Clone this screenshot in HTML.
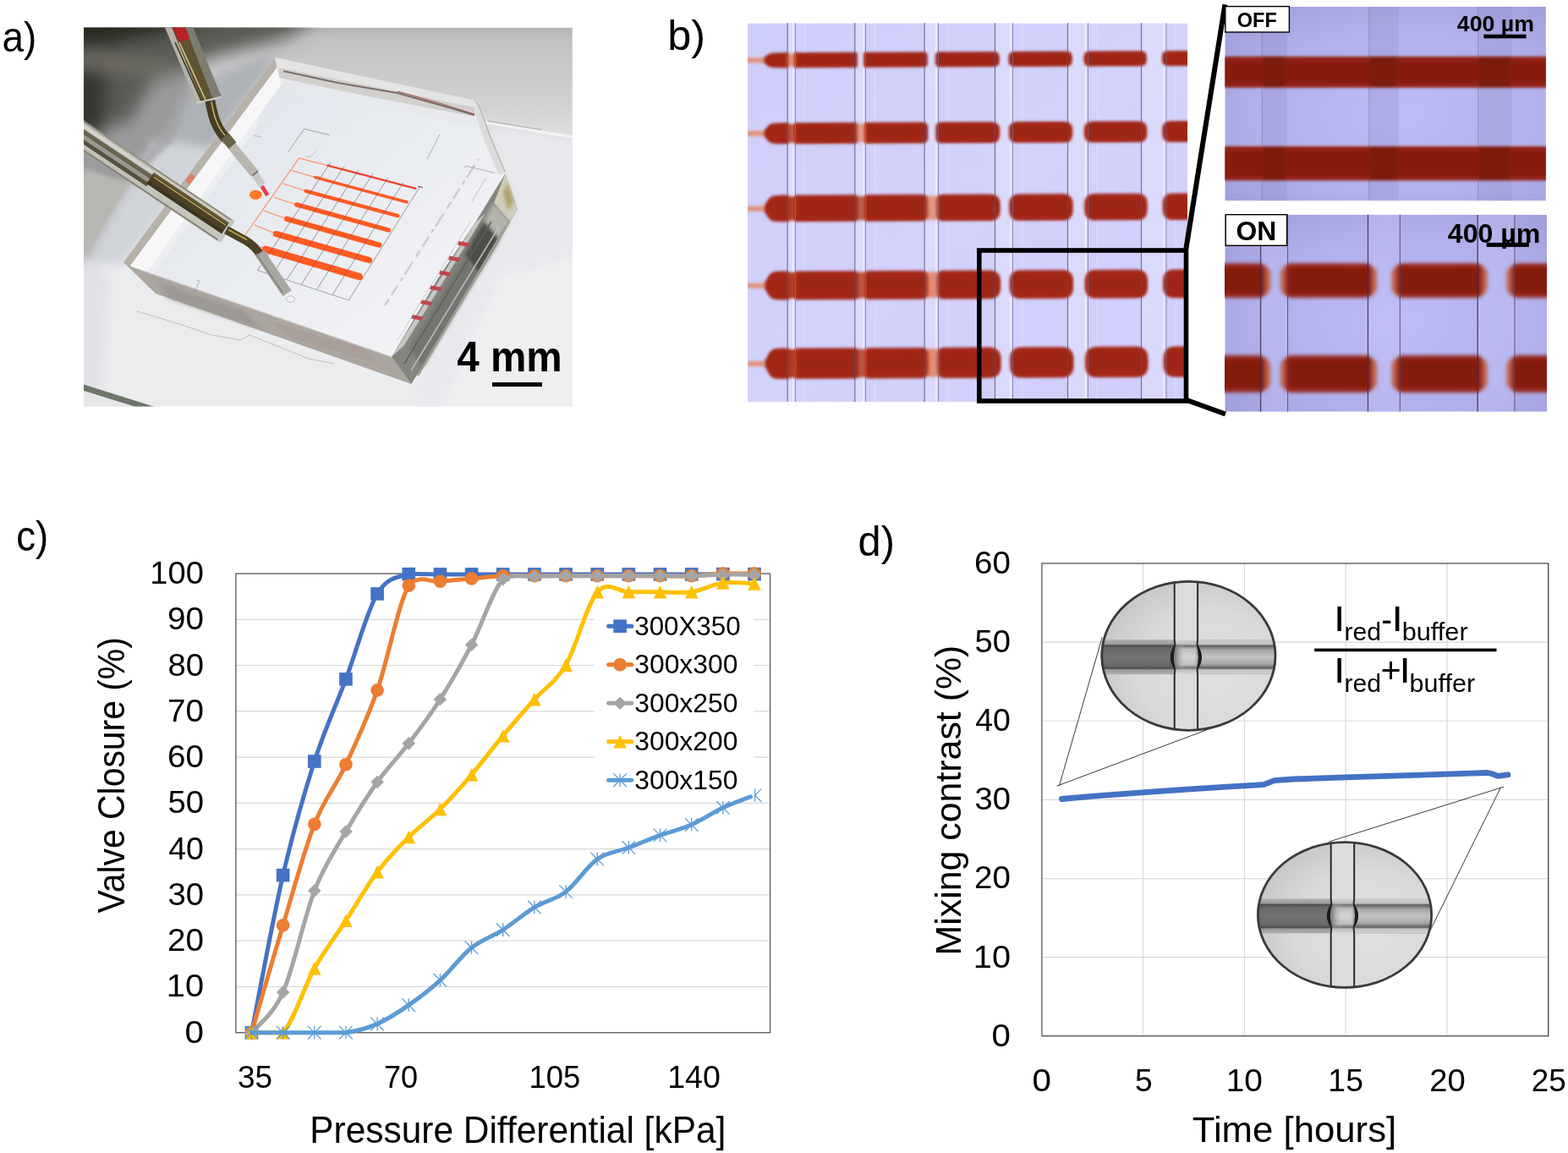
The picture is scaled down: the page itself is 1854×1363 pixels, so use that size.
<!DOCTYPE html>
<html lang="en"><head><meta charset="utf-8"><title>Figure</title>
<style>
html,body{margin:0;padding:0;background:#fff;overflow:hidden}
svg{display:block}
text{font-family:"Liberation Sans",sans-serif}
</style></head>
<body>
<svg width="1854" height="1363" viewBox="0 0 1854 1363">
<defs>
<clipPath id="clipA"><rect x="99.0" y="32.6" width="577.9" height="447.9"/></clipPath>
<filter id="a_b1" filterUnits="userSpaceOnUse" x="20" y="-40" width="740" height="600"><feGaussianBlur stdDeviation="0.7"/></filter>
<filter id="a_b2" filterUnits="userSpaceOnUse" x="20" y="-40" width="740" height="600"><feGaussianBlur stdDeviation="2"/></filter>
<filter id="a_b6" filterUnits="userSpaceOnUse" x="20" y="-40" width="740" height="600"><feGaussianBlur stdDeviation="6"/></filter>
<filter id="a_b20" filterUnits="userSpaceOnUse" x="20" y="-40" width="740" height="600"><feGaussianBlur stdDeviation="10"/></filter>
<linearGradient id="a_bg" x1="0" y1="0" x2="0" y2="1"><stop offset="0" stop-color="#b4b4b5"/><stop offset="0.03" stop-color="#c0c1c2"/><stop offset="0.10" stop-color="#c7c8ca"/><stop offset="0.2" stop-color="#cfd1d3"/><stop offset="0.26" stop-color="#d8dadc"/><stop offset="0.32" stop-color="#dfe1e3"/><stop offset="0.6" stop-color="#e8eaec"/><stop offset="1" stop-color="#f0f0f2"/></linearGradient>
<linearGradient id="a_top" x1="0" y1="0" x2="1" y2="1"><stop offset="0" stop-color="#dee1e9"/><stop offset="0.35" stop-color="#e5e8ee"/><stop offset="0.7" stop-color="#eef0f3"/><stop offset="1" stop-color="#f4f5f6"/></linearGradient>
<clipPath id="clipB"><rect x="884.0" y="27.5" width="520.0" height="447.5"/></clipPath>
<filter id="blB" x="-5%" y="-20%" width="110%" height="140%"><feGaussianBlur stdDeviation="1.6"/></filter>
<filter id="blB2" x="-5%" y="-5%" width="110%" height="110%"><feGaussianBlur stdDeviation="2.5"/></filter>
<linearGradient id="bgB" x1="0" y1="0" x2="1" y2="1"><stop offset="0" stop-color="#cecefa"/><stop offset="0.5" stop-color="#d3d2fc"/><stop offset="1" stop-color="#d0cdfa"/></linearGradient>
<clipPath id="clipOff"><rect x="1448.3" y="8.0" width="379.6" height="229.4"/></clipPath>
<radialGradient id="bgOff" cx="0.55" cy="0.55" r="0.75"><stop offset="0" stop-color="#bebcf6"/><stop offset="0.6" stop-color="#b2b0ea"/><stop offset="1" stop-color="#9e9cd6"/></radialGradient>
<filter id="blO" x="-5%" y="-30%" width="110%" height="160%"><feGaussianBlur stdDeviation="1.6"/></filter>
<clipPath id="clipOn"><rect x="1448.3" y="253.7" width="380.7" height="233.0"/></clipPath>
<filter id="blN" x="-10%" y="-30%" width="120%" height="160%"><feGaussianBlur stdDeviation="2.1"/></filter>
<filter id="d_b1" x="-5%" y="-5%" width="110%" height="110%"><feGaussianBlur stdDeviation="0.6"/></filter>
<clipPath id="el1"><ellipse cx="1405.4" cy="775.3" rx="103.6" ry="89.0"/></clipPath>
<radialGradient id="elg1" cx="0.62" cy="0.6" r="0.8"><stop offset="0" stop-color="#e0e0e0"/><stop offset="0.5" stop-color="#dadada"/><stop offset="0.8" stop-color="#c8c8c8"/><stop offset="1" stop-color="#b0b0b0"/></radialGradient>
<linearGradient id="hl1" x1="0" y1="0" x2="0" y2="1"><stop offset="0" stop-color="#b2b2b2"/><stop offset="0.13" stop-color="#9c9c9c"/><stop offset="0.17" stop-color="#4e4e4e"/><stop offset="0.25" stop-color="#686868"/><stop offset="0.5" stop-color="#727272"/><stop offset="0.75" stop-color="#686868"/><stop offset="0.83" stop-color="#4e4e4e"/><stop offset="0.87" stop-color="#9a9a9a"/><stop offset="1" stop-color="#b0b0b0"/></linearGradient>
<linearGradient id="hr1" x1="0" y1="0" x2="0" y2="1"><stop offset="0" stop-color="#bcbcbc"/><stop offset="0.03" stop-color="#cdcdcd"/><stop offset="0.13" stop-color="#c2c2c2"/><stop offset="0.18" stop-color="#5e5e5e"/><stop offset="0.3" stop-color="#a6a6a6"/><stop offset="0.5" stop-color="#c2c2c2"/><stop offset="0.7" stop-color="#a8a8a8"/><stop offset="0.82" stop-color="#5e5e5e"/><stop offset="0.87" stop-color="#c4c4c4"/><stop offset="0.97" stop-color="#cdcdcd"/><stop offset="1" stop-color="#b8b8b8"/></linearGradient>
<linearGradient id="hc1" x1="0" y1="0" x2="0" y2="1"><stop offset="0" stop-color="#d4d4d4"/><stop offset="0.13" stop-color="#bcbcbc"/><stop offset="0.18" stop-color="#707070"/><stop offset="0.28" stop-color="#c0c0c0"/><stop offset="0.5" stop-color="#d4d4d4"/><stop offset="0.72" stop-color="#c0c0c0"/><stop offset="0.82" stop-color="#707070"/><stop offset="0.87" stop-color="#c0c0c0"/><stop offset="1" stop-color="#d6d6d6"/></linearGradient>
<linearGradient id="hx1" x1="0" y1="0" x2="1" y2="0"><stop offset="0" stop-color="#6a6a6a" stop-opacity="0.9"/><stop offset="0.3" stop-color="#a0a0a0" stop-opacity="0.3"/><stop offset="0.5" stop-color="#d0d0d0" stop-opacity="0"/><stop offset="0.85" stop-color="#a0a0a0" stop-opacity="0"/><stop offset="1" stop-color="#707070" stop-opacity="0.5"/></linearGradient>
<clipPath id="el2"><ellipse cx="1590.0" cy="1081.5" rx="103.6" ry="86.9"/></clipPath>
<radialGradient id="elg2" cx="0.62" cy="0.6" r="0.8"><stop offset="0" stop-color="#e0e0e0"/><stop offset="0.5" stop-color="#dadada"/><stop offset="0.8" stop-color="#c8c8c8"/><stop offset="1" stop-color="#b0b0b0"/></radialGradient>
<linearGradient id="hl2" x1="0" y1="0" x2="0" y2="1"><stop offset="0" stop-color="#b2b2b2"/><stop offset="0.13" stop-color="#9c9c9c"/><stop offset="0.17" stop-color="#4e4e4e"/><stop offset="0.25" stop-color="#686868"/><stop offset="0.5" stop-color="#727272"/><stop offset="0.75" stop-color="#686868"/><stop offset="0.83" stop-color="#4e4e4e"/><stop offset="0.87" stop-color="#9a9a9a"/><stop offset="1" stop-color="#b0b0b0"/></linearGradient>
<linearGradient id="hr2" x1="0" y1="0" x2="0" y2="1"><stop offset="0" stop-color="#bcbcbc"/><stop offset="0.03" stop-color="#cdcdcd"/><stop offset="0.13" stop-color="#c2c2c2"/><stop offset="0.18" stop-color="#5e5e5e"/><stop offset="0.3" stop-color="#a6a6a6"/><stop offset="0.5" stop-color="#c2c2c2"/><stop offset="0.7" stop-color="#a8a8a8"/><stop offset="0.82" stop-color="#5e5e5e"/><stop offset="0.87" stop-color="#c4c4c4"/><stop offset="0.97" stop-color="#cdcdcd"/><stop offset="1" stop-color="#b8b8b8"/></linearGradient>
<linearGradient id="hc2" x1="0" y1="0" x2="0" y2="1"><stop offset="0" stop-color="#d4d4d4"/><stop offset="0.13" stop-color="#bcbcbc"/><stop offset="0.18" stop-color="#707070"/><stop offset="0.28" stop-color="#c0c0c0"/><stop offset="0.5" stop-color="#d4d4d4"/><stop offset="0.72" stop-color="#c0c0c0"/><stop offset="0.82" stop-color="#707070"/><stop offset="0.87" stop-color="#c0c0c0"/><stop offset="1" stop-color="#d6d6d6"/></linearGradient>
<linearGradient id="hx2" x1="0" y1="0" x2="1" y2="0"><stop offset="0" stop-color="#6a6a6a" stop-opacity="0.9"/><stop offset="0.3" stop-color="#a0a0a0" stop-opacity="0.3"/><stop offset="0.5" stop-color="#d0d0d0" stop-opacity="0"/><stop offset="0.85" stop-color="#a0a0a0" stop-opacity="0"/><stop offset="1" stop-color="#707070" stop-opacity="0.5"/></linearGradient>
</defs>
<rect width="1854" height="1363" fill="#fff"/>
<g clip-path="url(#clipA)">
<rect x="99.0" y="32.6" width="577.9" height="447.9" fill="url(#a_bg)"/>
<g filter="url(#a_b6)">
<polygon points="60.0,0.0 226.0,0.0 226.0,100.0 196.0,170.0 150.0,222.0 99.0,312.0 60.0,330.0" fill="#9a9b9c" />
<polygon points="60.0,190.0 150.0,220.0 99.0,306.0 60.0,320.0" fill="#b8b8b5" />
<polygon points="226.0,100.0 330.0,62.0 250.0,175.0 196.0,170.0" fill="#aeb1b5" />
<polygon points="185.0,165.0 250.0,175.0 146.0,312.0 99.0,330.0 99.0,312.0 150.0,222.0" fill="#d0d3d8" />
<polygon points="99.0,312.0 146.0,312.0 186.0,349.0 486.0,456.0 520.0,490.0 60.0,490.0" fill="#ebecee" />
<polygon points="60.0,320.0 99.0,306.0 130.0,325.0 120.0,460.0 60.0,470.0" fill="#e0e2e5" />
<polygon points="572.0,146.0 690.0,165.0 690.0,490.0 500.0,490.0 486.0,454.0 612.0,247.0 597.0,205.0" fill="#e7e9ec" />
<polygon points="590.0,330.0 690.0,300.0 690.0,490.0 520.0,490.0" fill="#eeeff1" />
</g>
<g filter="url(#a_b20)">
<polygon points="40.0,-20.0 430.0,-20.0 340.0,44.0 245.0,68.0 212.0,88.0 180.0,96.0 152.0,145.0 40.0,160.0" fill="#5a5a54" />
<polygon points="40.0,-20.0 330.0,-20.0 215.0,36.0 125.0,56.0 40.0,60.0" fill="#2a2a20" />
<polygon points="40.0,70.0 128.0,84.0 122.0,160.0 40.0,160.0" fill="#36362e" />
<polygon points="40.0,58.0 216.0,78.0 216.0,90.0 40.0,72.0" fill="#77756a" />
</g>
<polygon points="99.0,200.0 152.0,217.0 99.0,306.0" fill="#b6b6b3" filter="url(#a_b2)"/>
<polygon points="152.0,217.0 226.0,100.0 204.0,168.0" fill="#a2a3a4" filter="url(#a_b2)" opacity="0.7"/>
<polygon points="99.0,454.5 183.0,481.0 160.0,481.0 99.0,462.0" fill="#70756a" filter="url(#a_b1)"/>
<polygon points="99.0,462.0 160.0,481.0 99.0,481.0" fill="#e4e6e8" />
<line x1="572.0" y1="144.5" x2="677.0" y2="162.0" stroke="#f2f4f4" stroke-width="3" filter="url(#a_b1)"/>
<line x1="577.0" y1="143.2" x2="640.0" y2="153.4" stroke="#9a9a9a" stroke-width="0.8" />
<g filter="url(#a_b1)">
<polygon points="146.0,310.0 325.0,68.0 561.5,119.0 597.3,205.5 463.0,422.0 157.0,316.0" fill="url(#a_top)" />
<polygon points="146.0,310.0 325.0,68.0 332.2,73.4 153.2,315.4" fill="#b6b2aa" />
<polygon points="153.2,315.4 332.2,73.4 345.0,82.0 174.0,322.0" fill="#f7f7f7" />
<polygon points="174.0,322.0 304.0,140.0 308.0,144.0 182.0,324.0" fill="#eceef2" />
<polygon points="219.0,214.0 226.0,205.0 231.0,209.0 224.0,218.0" fill="#e08060" />
<polygon points="325.0,68.0 561.5,119.0 562.0,138.0 430.0,113.0 330.0,92.0" fill="#e4e4e4" />
<polygon points="330.0,80.0 430.0,100.0 561.0,127.0 562.0,138.0 430.0,113.0 330.0,92.0" fill="#d2d0ce" />
<path d="M335.0,84.0 L400.0,98.0 L470.0,110.0 L520.0,124.0 L561.0,136.0" fill="none" stroke="#7a6e6a" stroke-width="2.2" />
<path d="M470.0,108.0 L520.0,122.0 L561.0,135.0" fill="none" stroke="#a05a50" stroke-width="1.2" />
<polygon points="330.0,92.0 430.0,113.0 562.0,138.0 566.0,150.0 430.0,124.0 335.0,104.0" fill="#e6e8ec" opacity="0.8"/>
<polygon points="561.5,119.0 567.0,122.0 580.0,160.0 598.0,203.0 590.0,207.0 574.0,170.0 563.0,138.0" fill="#dcdcdc" />
<path d="M561.5,119.0 L566.0,124.0 L579.0,160.0 L597.0,203.0" fill="none" stroke="#a8a8a0" stroke-width="1" />
<polygon points="146.0,310.0 157.0,316.0 463.0,422.0 486.3,454.0 184.0,347.0" fill="#aca6a1" />
<polygon points="185.0,332.0 290.0,368.0 310.0,390.0 200.0,354.0" fill="#93918d" opacity="0.6" filter="url(#a_b2)"/>
<polygon points="320.0,380.0 430.0,412.0 450.0,432.0 340.0,398.0" fill="#a89a98" opacity="0.6"/>
<line x1="157.0" y1="316.0" x2="463.0" y2="422.0" stroke="#c8c4c0" stroke-width="1.2" />
<polygon points="597.3,205.5 612.0,247.0 577.0,307.0 486.3,454.0 463.0,422.0 518.0,329.0 562.0,263.0" fill="#858580" />
<polygon points="597.3,205.5 612.0,247.0 603.0,262.0 584.0,240.0" fill="#d0cdbc" />
<polygon points="600.0,215.0 607.0,238.0 601.0,250.0 595.0,228.0" fill="#b0a068" filter="url(#a_b2)"/>
<polygon points="584.0,240.0 603.0,262.0 590.0,284.0 572.0,262.0" fill="#b4b4aa" filter="url(#a_b2)"/>
<polygon points="572.0,262.0 590.0,284.0 566.0,324.0 549.0,302.0" fill="#4e4e4a" filter="url(#a_b2)"/>
<polygon points="562.0,263.0 574.0,252.0 478.0,408.0 463.0,422.0" fill="#c6c6c4" />
<polygon points="549.0,302.0 566.0,324.0 500.0,434.0 484.0,412.0" fill="#747470" filter="url(#a_b2)"/>
<line x1="590.0" y1="268.0" x2="486.0" y2="438.0" stroke="#aebcc0" stroke-width="1.6" />
<line x1="598.0" y1="268.0" x2="494.0" y2="444.0" stroke="#9c9c94" stroke-width="2.6" />
<line x1="581.0" y1="262.0" x2="478.0" y2="430.0" stroke="#606058" stroke-width="1.5" />
<polygon points="542.5,285.0 555.5,287.5 554.0,292.0 541.0,289.5" fill="#c0464e" />
<polygon points="531.5,302.4 544.5,304.9 543.0,309.4 530.0,306.9" fill="#c0464e" />
<polygon points="520.5,319.8 533.5,322.3 532.0,326.8 519.0,324.3" fill="#c0464e" />
<polygon points="509.5,337.2 522.5,339.7 521.0,344.2 508.0,341.7" fill="#c0464e" />
<polygon points="498.5,354.6 511.5,357.1 510.0,361.6 497.0,359.1" fill="#c0464e" />
<polygon points="487.5,372.0 500.5,374.5 499.0,379.0 486.0,376.5" fill="#c0464e" />
</g>
<line x1="556.0" y1="262.0" x2="470.0" y2="402.0" stroke="#b0b0b4" stroke-width="0.8" opacity="0.7"/>
<g filter="url(#a_b1)">
<line x1="353.6" y1="186.9" x2="289.8" y2="277.8" stroke="#ff8a62" stroke-width="1.1" />
<line x1="353.6" y1="186.9" x2="387.4" y2="195.7" stroke="#ff8a62" stroke-width="1.1" />
<line x1="387.4" y1="195.7" x2="491.5" y2="222.8" stroke="#f0442a" stroke-width="2.4" stroke-linecap="round"/>
<line x1="344.8" y1="201.5" x2="372.7" y2="209.6" stroke="#ff8a62" stroke-width="1.1" />
<line x1="372.7" y1="209.6" x2="481.3" y2="239.0" stroke="#ff5a22" stroke-width="3.5" stroke-linecap="round"/>
<line x1="334.5" y1="216.9" x2="361.7" y2="225.8" stroke="#ff8a62" stroke-width="1.1" />
<line x1="361.7" y1="225.8" x2="470.3" y2="255.1" stroke="#ff5a22" stroke-width="4.4" stroke-linecap="round"/>
<line x1="323.5" y1="233.0" x2="350.7" y2="241.9" stroke="#ff8a62" stroke-width="1.1" />
<line x1="350.7" y1="241.9" x2="459.3" y2="272.0" stroke="#ff5a22" stroke-width="5.4" stroke-linecap="round"/>
<line x1="312.5" y1="249.2" x2="339.0" y2="258.8" stroke="#ff8a62" stroke-width="1.1" />
<line x1="339.0" y1="258.8" x2="448.3" y2="289.6" stroke="#ff5a22" stroke-width="6.3" stroke-linecap="round"/>
<line x1="300.8" y1="266.1" x2="326.5" y2="276.4" stroke="#ff8a62" stroke-width="1.1" />
<line x1="326.5" y1="276.4" x2="436.5" y2="307.6" stroke="#ff5a22" stroke-width="7.3" stroke-linecap="round"/>
<line x1="308.0" y1="291.8" x2="314.0" y2="294.7" stroke="#ff8a62" stroke-width="1.1" />
<line x1="314.0" y1="294.7" x2="424.8" y2="327.0" stroke="#ff5a22" stroke-width="8.3" stroke-linecap="round"/>
<line x1="391.0" y1="192.0" x2="304.5" y2="319.6" stroke="#5a5050" stroke-width="0.9" opacity="0.62"/>
<line x1="407.2" y1="196.4" x2="321.4" y2="325.2" stroke="#5a5050" stroke-width="0.9" opacity="0.62"/>
<line x1="424.0" y1="200.8" x2="339.0" y2="330.7" stroke="#5a5050" stroke-width="0.9" opacity="0.62"/>
<line x1="441.0" y1="205.2" x2="356.6" y2="335.8" stroke="#5a5050" stroke-width="0.9" opacity="0.62"/>
<line x1="458.5" y1="210.3" x2="374.9" y2="341.7" stroke="#5a5050" stroke-width="0.9" opacity="0.62"/>
<line x1="476.9" y1="215.5" x2="393.2" y2="348.3" stroke="#5a5050" stroke-width="0.9" opacity="0.62"/>
<line x1="496.7" y1="220.6" x2="412.3" y2="354.9" stroke="#5a5050" stroke-width="0.9" opacity="0.62"/>
<line x1="304.5" y1="319.6" x2="412.3" y2="354.9" stroke="#5a5a5a" stroke-width="0.9" opacity="0.55"/>
<line x1="494.0" y1="220.3" x2="500.0" y2="221.5" stroke="#555" stroke-width="1" />
<ellipse cx="302.3" cy="230.3" rx="7.4" ry="5.6" fill="#ff7a22"/>
</g>
<g opacity="0.4" filter="url(#a_b1)">
<line x1="455.0" y1="361.0" x2="566.0" y2="188.0" stroke="#9a9a9e" stroke-width="2.4" stroke-dasharray="9 5 14 6 5 4 18 7"/>
</g>
<g opacity="0.6">
<path d="M162.0,368.0 L215.0,384.0 L250.0,396.0 L285.0,402.0 L295.0,396.0 L330.0,410.0 L365.0,424.0 L395.0,430.0" fill="none" stroke="#8a8a8a" stroke-width="0.8" />
<path d="M232.0,331.0 L236.0,332.0 L230.0,345.0" fill="none" stroke="#777" stroke-width="0.8" />
<path d="M340.6,179.8 L359.5,152.4 L389.8,159.6" fill="none" stroke="#666" stroke-width="0.9" />
<path d="M362.0,184.6 L366.0,186.0 L374.0,178.5" fill="none" stroke="#888" stroke-width="0.8" />
<path d="M548.5,197.6 L552.0,196.5 L584.8,204.5" fill="none" stroke="#777" stroke-width="0.9" />
<path d="M575.0,210.0 L558.0,238.0" fill="none" stroke="#888" stroke-width="0.8" />
<path d="M300.0,160.0 L309.0,162.0" fill="none" stroke="#888" stroke-width="0.8" />
<path d="M520.0,159.0 L505.0,188.0" fill="none" stroke="#777" stroke-width="0.9" />
</g>
<g filter="url(#a_b1)">
<polygon points="194.9,32.0 227.9,32.0 261.7,114.5 232.3,121.8" fill="#8a8a80" />
<polygon points="194.9,32.0 203.0,32.0 239.0,120.0 232.3,121.8" fill="#b4b4aa" />
<polygon points="203.0,32.0 219.0,32.0 252.0,117.0 239.0,120.5" fill="#5e5230" />
<line x1="212.0" y1="50.0" x2="243.0" y2="118.0" stroke="#d8c880" stroke-width="1.6" />
<line x1="207.0" y1="50.0" x2="238.0" y2="119.0" stroke="#3a3420" stroke-width="1.6" />
<polygon points="219.0,32.0 227.9,32.0 261.7,114.5 252.0,117.0" fill="#7c7c70" />
<polygon points="203.0,32.0 219.1,32.0 224.2,45.5 212.5,50.0" fill="#b52424" />
<line x1="232.3" y1="121.8" x2="261.7" y2="114.5" stroke="#d0d0c8" stroke-width="2" />
<path d="M248.4,119 C252,140 256,152 269,166 " fill="none" stroke="#463e26" stroke-width="12"/>
<path d="M250,120 C253,138 257,150 266,160" fill="none" stroke="#c8b060" stroke-width="1.6"/>
<line x1="267.0" y1="164.0" x2="301.3" y2="205.5" stroke="#b8b6b0" stroke-width="11" />
<line x1="266.0" y1="161.0" x2="275.0" y2="172.0" stroke="#6a644c" stroke-width="11.5" />
<line x1="301.3" y1="205.5" x2="310.0" y2="218.7" stroke="#c8c8c8" stroke-width="9" />
<line x1="298.5" y1="207.5" x2="305.0" y2="202.5" stroke="#5a4a4a" stroke-width="1.4" />
<line x1="309.6" y1="220.0" x2="316.4" y2="231.0" stroke="#e0404a" stroke-width="4.6" />
<polygon points="74.2,125.9 276.3,260.7 259.5,286.0 57.3,151.1" fill="#b8b8b1" />
<polygon points="74.2,125.9 276.3,260.7 275.3,262.2 73.2,127.4" fill="#8e8a78" />
<polygon points="58.3,149.6 260.5,284.5 259.5,286.0 57.3,151.1" fill="#858170" />
<polygon points="72.1,128.9 184.4,203.9 182.2,207.2 69.9,132.3" fill="#d2d2cc" />
<polygon points="69.3,133.1 181.6,208.0 178.6,212.6 66.3,137.7" fill="#6a6450" />
<polygon points="66.3,137.7 178.6,212.6 176.1,216.3 63.8,141.4" fill="#9a988c" />
<polygon points="63.8,141.4 176.1,216.3 173.3,220.5 61.0,145.6" fill="#57513c" />
<polygon points="61.0,145.6 173.3,220.5 171.4,223.4 59.1,148.5" fill="#c2c2ba" />
<polygon points="185.0,202.9 274.9,262.9 273.4,265.0 183.6,205.1" fill="#cfcfc8" />
<polygon points="175.0,218.0 264.8,277.9 260.9,283.8 171.0,223.9" fill="#c4c4bc" />
<polygon points="181.9,204.0 270.9,263.4 262.3,276.3 173.3,216.9" fill="#4c4228" />
<polygon points="181.9,204.0 270.9,263.4 269.6,265.5 180.5,206.1" fill="#6a5c34" />
<polygon points="182.3,208.8 267.2,265.4 266.4,266.6 181.5,210.0" fill="#b8a660" />
<polygon points="175.5,213.6 264.6,272.9 262.3,276.3 173.3,216.9" fill="#3c3420" />
<polygon points="273.8,259.1 277.6,261.6 260.7,286.8 257.0,284.3" fill="#c6c6be" />
<path d="M267.5,271.9 L290,284 C300,290 305,296 309,303" fill="none" stroke="#4e4226" stroke-width="10"/>
<line x1="270.0" y1="271.5" x2="292.0" y2="283.5" stroke="#c0a850" stroke-width="1.5" />
<line x1="307.0" y1="299.0" x2="339.5" y2="346.8" stroke="#a8a6a0" stroke-width="12.5" />
<line x1="303.0" y1="300.0" x2="334.0" y2="346.0" stroke="#8a8884" stroke-width="2" />
<ellipse cx="343.5" cy="353.5" rx="5" ry="3.6" fill="#f4f4f4" stroke="#b0b0b0" stroke-width="0.8"/>
</g>
</g>
<rect x="582" y="452" width="59" height="5" fill="#000"/>
<g clip-path="url(#clipB)">
<rect x="884.0" y="27.5" width="520.0" height="447.5" fill="url(#bgB)"/>
<rect x="931.6" y="22.5" width="7.4" height="457.5" fill="#dedefc" opacity="0.7"/>
<rect x="936.8" y="27.5" width="2.2" height="447.5" fill="#eeeeff" opacity="0.8"/>
<rect x="950.0" y="27.5" width="3" height="447.5" fill="#dcdcfc" opacity="0.45"/>
<rect x="1011.3" y="22.5" width="10.7" height="457.5" fill="#dedefc" opacity="0.7"/>
<rect x="1019.8" y="27.5" width="2.2" height="447.5" fill="#eeeeff" opacity="0.8"/>
<rect x="1033.0" y="27.5" width="3" height="447.5" fill="#dcdcfc" opacity="0.45"/>
<rect x="1093.6" y="22.5" width="14.4" height="457.5" fill="#dedefc" opacity="0.7"/>
<rect x="1105.8" y="27.5" width="2.2" height="447.5" fill="#eeeeff" opacity="0.8"/>
<rect x="1119.0" y="27.5" width="3" height="447.5" fill="#dcdcfc" opacity="0.45"/>
<rect x="1177.0" y="22.5" width="19.0" height="457.5" fill="#dedefc" opacity="0.7"/>
<rect x="1193.8" y="27.5" width="2.2" height="447.5" fill="#eeeeff" opacity="0.8"/>
<rect x="1207.0" y="27.5" width="3" height="447.5" fill="#dcdcfc" opacity="0.45"/>
<rect x="1263.0" y="22.5" width="22.0" height="457.5" fill="#dedefc" opacity="0.7"/>
<rect x="1282.8" y="27.5" width="2.2" height="447.5" fill="#eeeeff" opacity="0.8"/>
<rect x="1296.0" y="27.5" width="3" height="447.5" fill="#dcdcfc" opacity="0.45"/>
<rect x="1350.0" y="22.5" width="27.5" height="457.5" fill="#dedefc" opacity="0.7"/>
<rect x="1375.3" y="27.5" width="2.2" height="447.5" fill="#eeeeff" opacity="0.8"/>
<rect x="1388.5" y="27.5" width="3" height="447.5" fill="#dcdcfc" opacity="0.45"/>
<g transform="rotate(-0.27 960 100)">
<g filter="url(#blB)">
<path d="M882.0,68.6 L899.0,68.6 C907.0,68.6 905.0,62.5 917.0,62.3 L926.0,62.0 L926.0,80.0 L917.0,79.7 C905.0,79.5 907.0,73.4 899.0,73.4 L882.0,73.4Z" fill="#a32614"/>
<rect x="882.0" y="67.6" width="21" height="6.8" fill="#e8a590" opacity="0.85"/>
<path d="M922.0,62.0 L931.1,62.0 Q932.5,62.0 932.5,63.4 L932.5,78.6 Q932.5,80.0 931.1,80.0 L922.0,80.0 Q922.0,80.0 922.0,80.0 L922.0,62.0 Q922.0,62.0 922.0,62.0Z" fill="#a32614"/>
<rect x="926.0" y="66.0" width="2.5" height="10.1" rx="3.6" fill="#9a2410" opacity="0.55"/>
<path d="M939.9,62.0 L1011.5,62.0 Q1014.0,62.0 1014.0,64.5 L1014.0,77.5 Q1014.0,80.0 1011.5,80.0 L939.9,80.0 Q938.5,80.0 938.5,78.6 L938.5,63.4 Q938.5,62.0 939.9,62.0Z" fill="#a32614"/>
<rect x="942.5" y="66.0" width="67.5" height="10.1" rx="3.6" fill="#9a2410" opacity="0.55"/>
<path d="M1023.5,62.0 L1092.3,62.0 Q1097.0,62.0 1097.0,66.7 L1097.0,75.3 Q1097.0,80.0 1092.3,80.0 L1023.5,80.0 Q1021.0,80.0 1021.0,77.5 L1021.0,64.5 Q1021.0,62.0 1023.5,62.0Z" fill="#a32614"/>
<rect x="1025.0" y="66.0" width="68.0" height="10.1" rx="3.6" fill="#9a2410" opacity="0.55"/>
<path d="M1110.7,62.0 L1174.8,62.0 Q1182.0,62.0 1182.0,69.2 L1182.0,72.8 Q1182.0,80.0 1174.8,80.0 L1110.7,80.0 Q1106.0,80.0 1106.0,75.3 L1106.0,66.7 Q1106.0,62.0 1110.7,62.0Z" fill="#a32614"/>
<rect x="1110.0" y="66.0" width="68.0" height="10.1" rx="3.6" fill="#9a2410" opacity="0.55"/>
<path d="M1199.7,62.0 L1260.8,62.0 Q1268.0,62.0 1268.0,69.2 L1268.0,72.8 Q1268.0,80.0 1260.8,80.0 L1199.7,80.0 Q1192.5,80.0 1192.5,72.8 L1192.5,69.2 Q1192.5,62.0 1199.7,62.0Z" fill="#a32614"/>
<rect x="1196.5" y="66.0" width="67.5" height="10.1" rx="3.6" fill="#9a2410" opacity="0.55"/>
<path d="M1288.7,62.0 L1348.8,62.0 Q1356.0,62.0 1356.0,69.2 L1356.0,72.8 Q1356.0,80.0 1348.8,80.0 L1288.7,80.0 Q1281.5,80.0 1281.5,72.8 L1281.5,69.2 Q1281.5,62.0 1288.7,62.0Z" fill="#a32614"/>
<rect x="1285.5" y="66.0" width="66.5" height="10.1" rx="3.6" fill="#9a2410" opacity="0.55"/>
<path d="M1381.2,62.0 L1414.0,62.0 Q1414.0,62.0 1414.0,62.0 L1414.0,80.0 Q1414.0,80.0 1414.0,80.0 L1381.2,80.0 Q1374.0,80.0 1374.0,72.8 L1374.0,69.2 Q1374.0,62.0 1381.2,62.0Z" fill="#a32614"/>
<rect x="1378.0" y="66.0" width="32.0" height="10.1" rx="3.6" fill="#9a2410" opacity="0.55"/>
<rect x="929.5" y="63.5" width="12.0" height="15.0" fill="#e0602c" opacity="0.6000000000000001"/>
<path d="M882.0,155.1 L899.0,155.1 C907.0,155.1 905.0,145.5 917.0,145.3 L926.0,145.0 L926.0,170.0 L917.0,169.7 C905.0,169.5 907.0,159.9 899.0,159.9 L882.0,159.9Z" fill="#a32614"/>
<rect x="882.0" y="154.1" width="21" height="6.8" fill="#e8a590" opacity="0.85"/>
<path d="M922.0,145.0 L930.5,145.0 Q932.5,145.0 932.5,147.0 L932.5,168.0 Q932.5,170.0 930.5,170.0 L922.0,170.0 Q922.0,170.0 922.0,170.0 L922.0,145.0 Q922.0,145.0 922.0,145.0Z" fill="#a32614"/>
<rect x="926.0" y="150.5" width="2.5" height="14.0" rx="5.0" fill="#9a2410" opacity="0.55"/>
<path d="M940.5,145.0 L1010.5,145.0 Q1014.0,145.0 1014.0,148.5 L1014.0,166.5 Q1014.0,170.0 1010.5,170.0 L940.5,170.0 Q938.5,170.0 938.5,168.0 L938.5,147.0 Q938.5,145.0 940.5,145.0Z" fill="#a32614"/>
<rect x="942.5" y="150.5" width="67.5" height="14.0" rx="5.0" fill="#9a2410" opacity="0.55"/>
<path d="M1024.5,145.0 L1090.5,145.0 Q1097.0,145.0 1097.0,151.5 L1097.0,163.5 Q1097.0,170.0 1090.5,170.0 L1024.5,170.0 Q1021.0,170.0 1021.0,166.5 L1021.0,148.5 Q1021.0,145.0 1024.5,145.0Z" fill="#a32614"/>
<rect x="1025.0" y="150.5" width="68.0" height="14.0" rx="5.0" fill="#9a2410" opacity="0.55"/>
<path d="M1112.5,145.0 L1172.0,145.0 Q1182.0,145.0 1182.0,155.0 L1182.0,160.0 Q1182.0,170.0 1172.0,170.0 L1112.5,170.0 Q1106.0,170.0 1106.0,163.5 L1106.0,151.5 Q1106.0,145.0 1112.5,145.0Z" fill="#a32614"/>
<rect x="1110.0" y="150.5" width="68.0" height="14.0" rx="5.0" fill="#9a2410" opacity="0.55"/>
<path d="M1202.5,145.0 L1258.0,145.0 Q1268.0,145.0 1268.0,155.0 L1268.0,160.0 Q1268.0,170.0 1258.0,170.0 L1202.5,170.0 Q1192.5,170.0 1192.5,160.0 L1192.5,155.0 Q1192.5,145.0 1202.5,145.0Z" fill="#a32614"/>
<rect x="1196.5" y="150.5" width="67.5" height="14.0" rx="5.0" fill="#9a2410" opacity="0.55"/>
<path d="M1291.5,145.0 L1346.0,145.0 Q1356.0,145.0 1356.0,155.0 L1356.0,160.0 Q1356.0,170.0 1346.0,170.0 L1291.5,170.0 Q1281.5,170.0 1281.5,160.0 L1281.5,155.0 Q1281.5,145.0 1291.5,145.0Z" fill="#a32614"/>
<rect x="1285.5" y="150.5" width="66.5" height="14.0" rx="5.0" fill="#9a2410" opacity="0.55"/>
<path d="M1384.0,145.0 L1414.0,145.0 Q1414.0,145.0 1414.0,145.0 L1414.0,170.0 Q1414.0,170.0 1414.0,170.0 L1384.0,170.0 Q1374.0,170.0 1374.0,160.0 L1374.0,155.0 Q1374.0,145.0 1384.0,145.0Z" fill="#a32614"/>
<rect x="1378.0" y="150.5" width="32.0" height="14.0" rx="5.0" fill="#9a2410" opacity="0.55"/>
<rect x="929.5" y="146.5" width="12.0" height="22.0" fill="#b03418" opacity="0.8"/>
<rect x="1011.0" y="146.5" width="13.0" height="22.0" fill="#e0602c" opacity="0.5"/>
<path d="M882.0,243.9 L899.0,243.9 C907.0,243.9 905.0,231.1 917.0,230.9 L926.0,230.6 L926.0,262.0 L917.0,261.7 C905.0,261.5 907.0,248.7 899.0,248.7 L882.0,248.7Z" fill="#a32614"/>
<rect x="882.0" y="242.9" width="21" height="6.8" fill="#e8a590" opacity="0.85"/>
<path d="M922.0,230.6 L930.0,230.6 Q932.5,230.6 932.5,233.1 L932.5,259.5 Q932.5,262.0 930.0,262.0 L922.0,262.0 Q922.0,262.0 922.0,262.0 L922.0,230.6 Q922.0,230.6 922.0,230.6Z" fill="#a32614"/>
<rect x="926.0" y="237.5" width="2.5" height="17.6" rx="6.3" fill="#9a2410" opacity="0.55"/>
<path d="M941.0,230.6 L1009.6,230.6 Q1014.0,230.6 1014.0,235.0 L1014.0,257.6 Q1014.0,262.0 1009.6,262.0 L941.0,262.0 Q938.5,262.0 938.5,259.5 L938.5,233.1 Q938.5,230.6 941.0,230.6Z" fill="#a32614"/>
<rect x="942.5" y="237.5" width="67.5" height="17.6" rx="6.3" fill="#9a2410" opacity="0.55"/>
<path d="M1025.4,230.6 L1088.8,230.6 Q1097.0,230.6 1097.0,238.8 L1097.0,253.8 Q1097.0,262.0 1088.8,262.0 L1025.4,262.0 Q1021.0,262.0 1021.0,257.6 L1021.0,235.0 Q1021.0,230.6 1025.4,230.6Z" fill="#a32614"/>
<rect x="1025.0" y="237.5" width="68.0" height="17.6" rx="6.3" fill="#9a2410" opacity="0.55"/>
<path d="M1114.2,230.6 L1169.4,230.6 Q1182.0,230.6 1182.0,243.2 L1182.0,249.4 Q1182.0,262.0 1169.4,262.0 L1114.2,262.0 Q1106.0,262.0 1106.0,253.8 L1106.0,238.8 Q1106.0,230.6 1114.2,230.6Z" fill="#a32614"/>
<rect x="1110.0" y="237.5" width="68.0" height="17.6" rx="6.3" fill="#9a2410" opacity="0.55"/>
<path d="M1205.1,230.6 L1255.4,230.6 Q1268.0,230.6 1268.0,243.2 L1268.0,249.4 Q1268.0,262.0 1255.4,262.0 L1205.1,262.0 Q1192.5,262.0 1192.5,249.4 L1192.5,243.2 Q1192.5,230.6 1205.1,230.6Z" fill="#a32614"/>
<rect x="1196.5" y="237.5" width="67.5" height="17.6" rx="6.3" fill="#9a2410" opacity="0.55"/>
<path d="M1294.1,230.6 L1343.4,230.6 Q1356.0,230.6 1356.0,243.2 L1356.0,249.4 Q1356.0,262.0 1343.4,262.0 L1294.1,262.0 Q1281.5,262.0 1281.5,249.4 L1281.5,243.2 Q1281.5,230.6 1294.1,230.6Z" fill="#a32614"/>
<rect x="1285.5" y="237.5" width="66.5" height="17.6" rx="6.3" fill="#9a2410" opacity="0.55"/>
<path d="M1386.6,230.6 L1414.0,230.6 Q1414.0,230.6 1414.0,230.6 L1414.0,262.0 Q1414.0,262.0 1414.0,262.0 L1386.6,262.0 Q1374.0,262.0 1374.0,249.4 L1374.0,243.2 Q1374.0,230.6 1386.6,230.6Z" fill="#a32614"/>
<rect x="1378.0" y="237.5" width="32.0" height="17.6" rx="6.3" fill="#9a2410" opacity="0.55"/>
<rect x="929.5" y="232.1" width="12.0" height="28.4" fill="#b03418" opacity="0.95"/>
<rect x="1011.0" y="232.1" width="13.0" height="28.4" fill="#b03418" opacity="0.75"/>
<rect x="1094.0" y="232.1" width="15.0" height="28.4" fill="#e0602c" opacity="0.55"/>
<path d="M882.0,334.9 L899.0,334.9 C907.0,334.9 905.0,320.9 917.0,320.7 L926.0,320.4 L926.0,354.2 L917.0,353.9 C905.0,353.7 907.0,339.7 899.0,339.7 L882.0,339.7Z" fill="#a32614"/>
<rect x="882.0" y="333.9" width="21" height="6.8" fill="#e8a590" opacity="0.85"/>
<path d="M922.0,320.4 L929.8,320.4 Q932.5,320.4 932.5,323.1 L932.5,351.5 Q932.5,354.2 929.8,354.2 L922.0,354.2 Q922.0,354.2 922.0,354.2 L922.0,320.4 Q922.0,320.4 922.0,320.4Z" fill="#a32614"/>
<rect x="926.0" y="327.8" width="2.5" height="18.9" rx="6.8" fill="#9a2410" opacity="0.55"/>
<path d="M941.2,320.4 L1009.3,320.4 Q1014.0,320.4 1014.0,325.1 L1014.0,349.5 Q1014.0,354.2 1009.3,354.2 L941.2,354.2 Q938.5,354.2 938.5,351.5 L938.5,323.1 Q938.5,320.4 941.2,320.4Z" fill="#a32614"/>
<rect x="942.5" y="327.8" width="67.5" height="18.9" rx="6.8" fill="#9a2410" opacity="0.55"/>
<path d="M1025.7,320.4 L1088.2,320.4 Q1097.0,320.4 1097.0,329.2 L1097.0,345.4 Q1097.0,354.2 1088.2,354.2 L1025.7,354.2 Q1021.0,354.2 1021.0,349.5 L1021.0,325.1 Q1021.0,320.4 1025.7,320.4Z" fill="#a32614"/>
<rect x="1025.0" y="327.8" width="68.0" height="18.9" rx="6.8" fill="#9a2410" opacity="0.55"/>
<path d="M1114.8,320.4 L1168.5,320.4 Q1182.0,320.4 1182.0,333.9 L1182.0,340.7 Q1182.0,354.2 1168.5,354.2 L1114.8,354.2 Q1106.0,354.2 1106.0,345.4 L1106.0,329.2 Q1106.0,320.4 1114.8,320.4Z" fill="#a32614"/>
<rect x="1110.0" y="327.8" width="68.0" height="18.9" rx="6.8" fill="#9a2410" opacity="0.55"/>
<path d="M1206.0,320.4 L1254.5,320.4 Q1268.0,320.4 1268.0,333.9 L1268.0,340.7 Q1268.0,354.2 1254.5,354.2 L1206.0,354.2 Q1192.5,354.2 1192.5,340.7 L1192.5,333.9 Q1192.5,320.4 1206.0,320.4Z" fill="#a32614"/>
<rect x="1196.5" y="327.8" width="67.5" height="18.9" rx="6.8" fill="#9a2410" opacity="0.55"/>
<path d="M1295.0,320.4 L1342.5,320.4 Q1356.0,320.4 1356.0,333.9 L1356.0,340.7 Q1356.0,354.2 1342.5,354.2 L1295.0,354.2 Q1281.5,354.2 1281.5,340.7 L1281.5,333.9 Q1281.5,320.4 1295.0,320.4Z" fill="#a32614"/>
<rect x="1285.5" y="327.8" width="66.5" height="18.9" rx="6.8" fill="#9a2410" opacity="0.55"/>
<path d="M1387.5,320.4 L1414.0,320.4 Q1414.0,320.4 1414.0,320.4 L1414.0,354.2 Q1414.0,354.2 1414.0,354.2 L1387.5,354.2 Q1374.0,354.2 1374.0,340.7 L1374.0,333.9 Q1374.0,320.4 1387.5,320.4Z" fill="#a32614"/>
<rect x="1378.0" y="327.8" width="32.0" height="18.9" rx="6.8" fill="#9a2410" opacity="0.55"/>
<rect x="929.5" y="321.9" width="12.0" height="30.8" fill="#b03418" opacity="0.95"/>
<rect x="1011.0" y="321.9" width="13.0" height="30.8" fill="#b03418" opacity="0.8"/>
<rect x="1094.0" y="321.9" width="15.0" height="30.8" fill="#e0602c" opacity="0.62"/>
<path d="M882.0,427.2 L899.0,427.2 C907.0,427.2 905.0,411.9 917.0,411.7 L926.0,411.4 L926.0,447.8 L917.0,447.5 C905.0,447.3 907.0,432.0 899.0,432.0 L882.0,432.0Z" fill="#a32614"/>
<rect x="882.0" y="426.2" width="21" height="6.8" fill="#e8a590" opacity="0.85"/>
<path d="M922.0,411.4 L929.6,411.4 Q932.5,411.4 932.5,414.3 L932.5,444.9 Q932.5,447.8 929.6,447.8 L922.0,447.8 Q922.0,447.8 922.0,447.8 L922.0,411.4 Q922.0,411.4 922.0,411.4Z" fill="#a32614"/>
<rect x="926.0" y="419.4" width="2.5" height="20.4" rx="7.3" fill="#9a2410" opacity="0.55"/>
<path d="M941.4,411.4 L1008.9,411.4 Q1014.0,411.4 1014.0,416.5 L1014.0,442.7 Q1014.0,447.8 1008.9,447.8 L941.4,447.8 Q938.5,447.8 938.5,444.9 L938.5,414.3 Q938.5,411.4 941.4,411.4Z" fill="#a32614"/>
<rect x="942.5" y="419.4" width="67.5" height="20.4" rx="7.3" fill="#9a2410" opacity="0.55"/>
<path d="M1026.1,411.4 L1087.5,411.4 Q1097.0,411.4 1097.0,420.9 L1097.0,438.3 Q1097.0,447.8 1087.5,447.8 L1026.1,447.8 Q1021.0,447.8 1021.0,442.7 L1021.0,416.5 Q1021.0,411.4 1026.1,411.4Z" fill="#a32614"/>
<rect x="1025.0" y="419.4" width="68.0" height="20.4" rx="7.3" fill="#9a2410" opacity="0.55"/>
<path d="M1115.5,411.4 L1167.4,411.4 Q1182.0,411.4 1182.0,426.0 L1182.0,433.2 Q1182.0,447.8 1167.4,447.8 L1115.5,447.8 Q1106.0,447.8 1106.0,438.3 L1106.0,420.9 Q1106.0,411.4 1115.5,411.4Z" fill="#a32614"/>
<rect x="1110.0" y="419.4" width="68.0" height="20.4" rx="7.3" fill="#9a2410" opacity="0.55"/>
<path d="M1207.1,411.4 L1253.4,411.4 Q1268.0,411.4 1268.0,426.0 L1268.0,433.2 Q1268.0,447.8 1253.4,447.8 L1207.1,447.8 Q1192.5,447.8 1192.5,433.2 L1192.5,426.0 Q1192.5,411.4 1207.1,411.4Z" fill="#a32614"/>
<rect x="1196.5" y="419.4" width="67.5" height="20.4" rx="7.3" fill="#9a2410" opacity="0.55"/>
<path d="M1296.1,411.4 L1341.4,411.4 Q1356.0,411.4 1356.0,426.0 L1356.0,433.2 Q1356.0,447.8 1341.4,447.8 L1296.1,447.8 Q1281.5,447.8 1281.5,433.2 L1281.5,426.0 Q1281.5,411.4 1296.1,411.4Z" fill="#a32614"/>
<rect x="1285.5" y="419.4" width="66.5" height="20.4" rx="7.3" fill="#9a2410" opacity="0.55"/>
<path d="M1388.6,411.4 L1414.0,411.4 Q1414.0,411.4 1414.0,411.4 L1414.0,447.8 Q1414.0,447.8 1414.0,447.8 L1388.6,447.8 Q1374.0,447.8 1374.0,433.2 L1374.0,426.0 Q1374.0,411.4 1388.6,411.4Z" fill="#a32614"/>
<rect x="1378.0" y="419.4" width="32.0" height="20.4" rx="7.3" fill="#9a2410" opacity="0.55"/>
<rect x="929.5" y="412.9" width="12.0" height="33.4" fill="#b03418" opacity="0.95"/>
<rect x="1011.0" y="412.9" width="13.0" height="33.4" fill="#b03418" opacity="0.8"/>
<rect x="1094.0" y="412.9" width="15.0" height="33.4" fill="#e0602c" opacity="0.62"/>
</g>
</g>
<line x1="931.1" x2="931.1" y1="22.5" y2="480.0" stroke="#5c4c74" stroke-width="1.1" opacity="0.8"/>
<line x1="940.5" x2="940.5" y1="22.5" y2="480.0" stroke="#7c6c98" stroke-width="0.9" opacity="0.8"/>
<line x1="1010.8" x2="1010.8" y1="22.5" y2="480.0" stroke="#5c4c74" stroke-width="1.1" opacity="0.8"/>
<line x1="1023.5" x2="1023.5" y1="22.5" y2="480.0" stroke="#7c6c98" stroke-width="0.9" opacity="0.8"/>
<line x1="1093.1" x2="1093.1" y1="22.5" y2="480.0" stroke="#5c4c74" stroke-width="1.1" opacity="0.8"/>
<line x1="1109.5" x2="1109.5" y1="22.5" y2="480.0" stroke="#7c6c98" stroke-width="0.9" opacity="0.8"/>
<line x1="1176.5" x2="1176.5" y1="22.5" y2="480.0" stroke="#5c4c74" stroke-width="1.1" opacity="0.8"/>
<line x1="1197.5" x2="1197.5" y1="22.5" y2="480.0" stroke="#7c6c98" stroke-width="0.9" opacity="0.8"/>
<line x1="1262.5" x2="1262.5" y1="22.5" y2="480.0" stroke="#5c4c74" stroke-width="1.1" opacity="0.8"/>
<line x1="1286.5" x2="1286.5" y1="22.5" y2="480.0" stroke="#7c6c98" stroke-width="0.9" opacity="0.8"/>
<line x1="1349.5" x2="1349.5" y1="22.5" y2="480.0" stroke="#5c4c74" stroke-width="1.1" opacity="0.8"/>
<line x1="1379.0" x2="1379.0" y1="22.5" y2="480.0" stroke="#7c6c98" stroke-width="0.9" opacity="0.8"/>
</g>
<g clip-path="url(#clipOff)">
<rect x="1448.3" y="8.0" width="379.6" height="229.4" fill="url(#bgOff)"/>
<rect x="1492.2" y="8.0" width="29.3" height="229.4" fill="#8c8cc4" opacity="0.28"/>
<line x1="1492.2" x2="1492.2" y1="8.0" y2="237.4" stroke="#7878a8" stroke-width="0.8" opacity="0.7"/>
<rect x="1618.7" y="8.0" width="35.0" height="229.4" fill="#8c8cc4" opacity="0.28"/>
<line x1="1618.7" x2="1618.7" y1="8.0" y2="237.4" stroke="#7878a8" stroke-width="0.8" opacity="0.7"/>
<rect x="1747.4" y="8.0" width="40.5" height="229.4" fill="#8c8cc4" opacity="0.28"/>
<line x1="1747.4" x2="1747.4" y1="8.0" y2="237.4" stroke="#7878a8" stroke-width="0.8" opacity="0.7"/>
<g filter="url(#blO)">
<rect x="1438.3" y="66.8" width="399.6" height="36.8" fill="#932414"/>
<rect x="1438.3" y="72.8" width="399.6" height="24.8" fill="#851a0e"/>
<rect x="1494.2" y="67.3" width="24.3" height="35.8" rx="3" fill="#7c1a10"/>
<rect x="1620.7" y="67.3" width="30.0" height="35.8" rx="3" fill="#7c1a10"/>
<rect x="1749.4" y="67.3" width="35.5" height="35.8" rx="3" fill="#7c1a10"/>
<rect x="1438.3" y="173.0" width="399.6" height="40.4" fill="#932414"/>
<rect x="1438.3" y="179.0" width="399.6" height="28.4" fill="#851a0e"/>
<rect x="1494.2" y="173.5" width="24.3" height="39.4" rx="3" fill="#7c1a10"/>
<rect x="1620.7" y="173.5" width="30.0" height="39.4" rx="3" fill="#7c1a10"/>
<rect x="1749.4" y="173.5" width="35.5" height="39.4" rx="3" fill="#7c1a10"/>
</g>
</g>
<g clip-path="url(#clipOn)">
<rect x="1448.3" y="253.7" width="380.7" height="233.0" fill="url(#bgOff)"/>
<rect x="1490.6" y="253.7" width="32.0" height="233.0" fill="#c4c4f4" opacity="0.35"/>
<rect x="1617.5" y="253.7" width="37.8" height="233.0" fill="#c4c4f4" opacity="0.35"/>
<rect x="1747.2" y="253.7" width="43.7" height="233.0" fill="#c4c4f4" opacity="0.35"/>
<g filter="url(#blN)">
<rect x="1427.5" y="313.5" width="74.5" height="36.3" rx="10" fill="#c04a26" opacity="0.8"/>
<rect x="1433.5" y="311.5" width="62.5" height="40.3" rx="6" fill="#932414"/>
<rect x="1438" y="317.5" width="53.5" height="28.3" rx="5" fill="#821a0e"/>
<rect x="1514.0" y="313.5" width="114.0" height="36.3" rx="10" fill="#c04a26" opacity="0.8"/>
<rect x="1520.0" y="311.5" width="102.0" height="40.3" rx="6" fill="#932414"/>
<rect x="1524.5" y="317.5" width="93.0" height="28.3" rx="5" fill="#821a0e"/>
<rect x="1645.5" y="313.5" width="113.0" height="36.3" rx="10" fill="#c04a26" opacity="0.8"/>
<rect x="1651.5" y="311.5" width="101.0" height="40.3" rx="6" fill="#932414"/>
<rect x="1656.0" y="317.5" width="92.0" height="28.3" rx="5" fill="#821a0e"/>
<rect x="1781.5" y="313.5" width="71.0" height="36.3" rx="10" fill="#c04a26" opacity="0.8"/>
<rect x="1787.5" y="311.5" width="59.0" height="40.3" rx="6" fill="#932414"/>
<rect x="1792.0" y="317.5" width="50.0" height="28.3" rx="5" fill="#821a0e"/>
<rect x="1427.5" y="422.2" width="74.5" height="39.6" rx="10" fill="#c04a26" opacity="0.8"/>
<rect x="1433.5" y="420.2" width="62.5" height="43.6" rx="6" fill="#932414"/>
<rect x="1438" y="426.2" width="53.5" height="31.6" rx="5" fill="#821a0e"/>
<rect x="1514.0" y="422.2" width="114.0" height="39.6" rx="10" fill="#c04a26" opacity="0.8"/>
<rect x="1520.0" y="420.2" width="102.0" height="43.6" rx="6" fill="#932414"/>
<rect x="1524.5" y="426.2" width="93.0" height="31.6" rx="5" fill="#821a0e"/>
<rect x="1645.5" y="422.2" width="113.0" height="39.6" rx="10" fill="#c04a26" opacity="0.8"/>
<rect x="1651.5" y="420.2" width="101.0" height="43.6" rx="6" fill="#932414"/>
<rect x="1656.0" y="426.2" width="92.0" height="31.6" rx="5" fill="#821a0e"/>
<rect x="1781.5" y="422.2" width="71.0" height="39.6" rx="10" fill="#c04a26" opacity="0.8"/>
<rect x="1787.5" y="420.2" width="59.0" height="43.6" rx="6" fill="#932414"/>
<rect x="1792.0" y="426.2" width="50.0" height="31.6" rx="5" fill="#821a0e"/>
</g>
<line x1="1490.6" x2="1490.6" y1="253.7" y2="486.7" stroke="#342c4c" stroke-width="1.3" opacity="0.85"/>
<line x1="1522.6" x2="1522.6" y1="253.7" y2="486.7" stroke="#4c4468" stroke-width="1.0" opacity="0.85"/>
<line x1="1617.5" x2="1617.5" y1="253.7" y2="486.7" stroke="#342c4c" stroke-width="1.3" opacity="0.85"/>
<line x1="1655.3" x2="1655.3" y1="253.7" y2="486.7" stroke="#4c4468" stroke-width="1.0" opacity="0.85"/>
<line x1="1747.2" x2="1747.2" y1="253.7" y2="486.7" stroke="#342c4c" stroke-width="1.3" opacity="0.85"/>
<line x1="1790.9" x2="1790.9" y1="253.7" y2="486.7" stroke="#4c4468" stroke-width="1.0" opacity="0.85"/>
</g>
<rect x="1157.8" y="296" width="244.7" height="178" fill="none" stroke="#000" stroke-width="5.6"/>
<line x1="1402.4" y1="294" x2="1448.4" y2="5.4" stroke="#000" stroke-width="6.0"/>
<line x1="1404" y1="473.3" x2="1449" y2="489.6" stroke="#000" stroke-width="5.8"/>
<rect x="1448.8" y="7.6" width="75.6" height="30.4" fill="#fff" stroke="#000" stroke-width="1.4"/>
<rect x="1449.2" y="253.7" width="72.4" height="36.6" fill="#fff" stroke="#000" stroke-width="1.4"/>
<rect x="1754.3" y="40.7" width="50.3" height="4.6" fill="#000"/>
<rect x="1757.7" y="286.9" width="50.1" height="5" fill="#000"/>
<line x1="278.9" x2="910.6" y1="1166.44" y2="1166.44" stroke="#D9D9D9" stroke-width="1.2"/>
<line x1="278.9" x2="910.6" y1="1112.18" y2="1112.18" stroke="#D9D9D9" stroke-width="1.2"/>
<line x1="278.9" x2="910.6" y1="1057.92" y2="1057.92" stroke="#D9D9D9" stroke-width="1.2"/>
<line x1="278.9" x2="910.6" y1="1003.66" y2="1003.66" stroke="#D9D9D9" stroke-width="1.2"/>
<line x1="278.9" x2="910.6" y1="949.40" y2="949.40" stroke="#D9D9D9" stroke-width="1.2"/>
<line x1="278.9" x2="910.6" y1="895.14" y2="895.14" stroke="#D9D9D9" stroke-width="1.2"/>
<line x1="278.9" x2="910.6" y1="840.88" y2="840.88" stroke="#D9D9D9" stroke-width="1.2"/>
<line x1="278.9" x2="910.6" y1="786.62" y2="786.62" stroke="#D9D9D9" stroke-width="1.2"/>
<line x1="278.9" x2="910.6" y1="732.36" y2="732.36" stroke="#D9D9D9" stroke-width="1.2"/>
<rect x="702.9" y="712" width="188.3" height="232" fill="#fff"/>
<rect x="278.9" y="678.1" width="631.70" height="542.60" fill="none" stroke="#595959" stroke-width="1.3"/>
<path d="M297.48,1220.70 C303.67,1189.68 322.25,1088.03 334.64,1034.59 C347.02,981.14 359.41,938.64 371.80,900.02 C384.18,861.41 396.57,835.91 408.96,802.90 C421.34,769.89 433.73,722.68 446.11,701.97 C458.50,681.27 470.89,682.49 483.27,678.64 C495.66,678.10 508.05,678.87 520.43,678.91 C532.82,678.96 545.20,678.91 557.59,678.91 C569.98,678.91 582.36,678.91 594.75,678.91 C607.14,678.91 619.52,678.91 631.91,678.91 C644.30,678.91 656.68,678.91 669.07,678.91 C681.45,678.91 693.84,678.91 706.23,678.91 C718.61,678.91 731.00,678.91 743.39,678.91 C755.77,678.91 768.16,678.91 780.54,678.91 C792.93,678.91 805.32,678.96 817.70,678.91 C830.09,678.87 842.48,678.69 854.86,678.64 C867.25,678.60 885.83,678.64 892.02,678.64" fill="none" stroke="#4472C4" stroke-width="5.0" stroke-linecap="round" stroke-linejoin="round"/>
<rect x="289.68" y="1212.90" width="15.6" height="15.6" fill="#4472C4"/>
<rect x="326.84" y="1026.79" width="15.6" height="15.6" fill="#4472C4"/>
<rect x="364.00" y="892.22" width="15.6" height="15.6" fill="#4472C4"/>
<rect x="401.16" y="795.10" width="15.6" height="15.6" fill="#4472C4"/>
<rect x="438.31" y="694.17" width="15.6" height="15.6" fill="#4472C4"/>
<rect x="475.47" y="670.84" width="15.6" height="15.6" fill="#4472C4"/>
<rect x="512.63" y="671.11" width="15.6" height="15.6" fill="#4472C4"/>
<rect x="549.79" y="671.11" width="15.6" height="15.6" fill="#4472C4"/>
<rect x="586.95" y="671.11" width="15.6" height="15.6" fill="#4472C4"/>
<rect x="624.11" y="671.11" width="15.6" height="15.6" fill="#4472C4"/>
<rect x="661.27" y="671.11" width="15.6" height="15.6" fill="#4472C4"/>
<rect x="698.43" y="671.11" width="15.6" height="15.6" fill="#4472C4"/>
<rect x="735.59" y="671.11" width="15.6" height="15.6" fill="#4472C4"/>
<rect x="772.74" y="671.11" width="15.6" height="15.6" fill="#4472C4"/>
<rect x="809.90" y="671.11" width="15.6" height="15.6" fill="#4472C4"/>
<rect x="847.06" y="670.84" width="15.6" height="15.6" fill="#4472C4"/>
<rect x="884.22" y="670.84" width="15.6" height="15.6" fill="#4472C4"/>
<path d="M297.48,1220.70 C303.67,1199.54 322.25,1134.79 334.64,1093.73 C347.02,1052.67 359.41,1006.01 371.80,974.36 C384.18,942.71 396.57,930.23 408.96,903.82 C421.34,877.42 433.73,851.19 446.11,815.92 C458.50,780.65 470.89,713.64 483.27,692.21 C495.66,678.10 508.05,688.68 520.43,687.32 C532.82,685.97 545.20,685.15 557.59,684.07 C569.98,682.98 582.36,681.36 594.75,680.81 C607.14,680.27 619.52,680.81 631.91,680.81 C644.30,680.81 656.68,680.81 669.07,680.81 C681.45,680.81 693.84,680.81 706.23,680.81 C718.61,680.81 731.00,680.81 743.39,680.81 C755.77,680.81 768.16,680.81 780.54,680.81 C792.93,680.81 805.32,681.27 817.70,680.81 C830.09,680.36 842.48,678.55 854.86,678.10 C867.25,678.10 885.83,678.10 892.02,678.10" fill="none" stroke="#ED7D31" stroke-width="5.0" stroke-linecap="round" stroke-linejoin="round"/>
<circle cx="297.48" cy="1220.70" r="7.80" fill="#ED7D31"/>
<circle cx="334.64" cy="1093.73" r="7.80" fill="#ED7D31"/>
<circle cx="371.80" cy="974.36" r="7.80" fill="#ED7D31"/>
<circle cx="408.96" cy="903.82" r="7.80" fill="#ED7D31"/>
<circle cx="446.11" cy="815.92" r="7.80" fill="#ED7D31"/>
<circle cx="483.27" cy="692.21" r="7.80" fill="#ED7D31"/>
<circle cx="520.43" cy="687.32" r="7.80" fill="#ED7D31"/>
<circle cx="557.59" cy="684.07" r="7.80" fill="#ED7D31"/>
<circle cx="594.75" cy="680.81" r="7.80" fill="#ED7D31"/>
<circle cx="631.91" cy="680.81" r="7.80" fill="#ED7D31"/>
<circle cx="669.07" cy="680.81" r="7.80" fill="#ED7D31"/>
<circle cx="706.23" cy="680.81" r="7.80" fill="#ED7D31"/>
<circle cx="743.39" cy="680.81" r="7.80" fill="#ED7D31"/>
<circle cx="780.54" cy="680.81" r="7.80" fill="#ED7D31"/>
<circle cx="817.70" cy="680.81" r="7.80" fill="#ED7D31"/>
<circle cx="854.86" cy="678.10" r="7.80" fill="#ED7D31"/>
<circle cx="892.02" cy="678.10" r="7.80" fill="#ED7D31"/>
<path d="M297.48,1220.70 C303.67,1212.74 322.25,1200.90 334.64,1172.95 C347.02,1145.01 359.41,1084.69 371.80,1053.04 C384.18,1021.38 396.57,1004.47 408.96,983.04 C421.34,961.61 433.73,941.80 446.11,924.44 C458.50,907.08 470.89,895.14 483.27,878.86 C495.66,862.58 508.05,846.22 520.43,826.77 C532.82,807.33 545.20,785.90 557.59,762.20 C569.98,738.51 582.36,698.09 594.75,684.61 C607.14,678.10 619.52,681.99 631.91,681.36 C644.30,680.72 656.68,680.90 669.07,680.81 C681.45,680.72 693.84,680.81 706.23,680.81 C718.61,680.81 731.00,680.81 743.39,680.81 C755.77,680.81 768.16,680.81 780.54,680.81 C792.93,680.81 805.32,681.08 817.70,680.81 C830.09,680.54 842.48,679.46 854.86,679.19 C867.25,678.91 885.83,679.19 892.02,679.19" fill="none" stroke="#A5A5A5" stroke-width="5.0" stroke-linecap="round" stroke-linejoin="round"/>
<path d="M289.68,1220.70 L297.48,1212.90 L305.28,1220.70 L297.48,1228.50Z" fill="#A5A5A5"/>
<path d="M326.84,1172.95 L334.64,1165.15 L342.44,1172.95 L334.64,1180.75Z" fill="#A5A5A5"/>
<path d="M364.00,1053.04 L371.80,1045.24 L379.60,1053.04 L371.80,1060.84Z" fill="#A5A5A5"/>
<path d="M401.16,983.04 L408.96,975.24 L416.76,983.04 L408.96,990.84Z" fill="#A5A5A5"/>
<path d="M438.31,924.44 L446.11,916.64 L453.91,924.44 L446.11,932.24Z" fill="#A5A5A5"/>
<path d="M475.47,878.86 L483.27,871.06 L491.07,878.86 L483.27,886.66Z" fill="#A5A5A5"/>
<path d="M512.63,826.77 L520.43,818.97 L528.23,826.77 L520.43,834.57Z" fill="#A5A5A5"/>
<path d="M549.79,762.20 L557.59,754.40 L565.39,762.20 L557.59,770.00Z" fill="#A5A5A5"/>
<path d="M586.95,684.61 L594.75,676.81 L602.55,684.61 L594.75,692.41Z" fill="#A5A5A5"/>
<path d="M624.11,681.36 L631.91,673.56 L639.71,681.36 L631.91,689.16Z" fill="#A5A5A5"/>
<path d="M661.27,680.81 L669.07,673.01 L676.87,680.81 L669.07,688.61Z" fill="#A5A5A5"/>
<path d="M698.43,680.81 L706.23,673.01 L714.03,680.81 L706.23,688.61Z" fill="#A5A5A5"/>
<path d="M735.59,680.81 L743.39,673.01 L751.19,680.81 L743.39,688.61Z" fill="#A5A5A5"/>
<path d="M772.74,680.81 L780.54,673.01 L788.34,680.81 L780.54,688.61Z" fill="#A5A5A5"/>
<path d="M809.90,680.81 L817.70,673.01 L825.50,680.81 L817.70,688.61Z" fill="#A5A5A5"/>
<path d="M847.06,679.19 L854.86,671.39 L862.66,679.19 L854.86,686.99Z" fill="#A5A5A5"/>
<path d="M884.22,679.19 L892.02,671.39 L899.82,679.19 L892.02,686.99Z" fill="#A5A5A5"/>
<path d="M297.48,1220.70 C303.67,1220.70 322.25,1220.70 334.64,1220.70 C347.02,1208.04 359.41,1166.80 371.80,1144.74 C384.18,1122.67 396.57,1107.30 408.96,1088.31 C421.34,1069.31 433.73,1047.25 446.11,1030.79 C458.50,1014.33 470.89,1001.94 483.27,989.55 C495.66,977.16 508.05,968.75 520.43,956.45 C532.82,944.15 545.20,930.23 557.59,915.76 C569.98,901.29 582.36,884.47 594.75,869.64 C607.14,854.81 619.52,840.70 631.91,826.77 C644.30,812.85 656.68,807.24 669.07,786.08 C681.45,764.92 693.84,714.18 706.23,699.80 C718.61,685.43 731.00,699.80 743.39,699.80 C755.77,699.80 768.16,699.80 780.54,699.80 C792.93,699.80 805.32,701.61 817.70,699.80 C830.09,698.00 842.48,690.58 854.86,688.95 C867.25,687.32 885.83,689.86 892.02,690.04" fill="none" stroke="#FFC000" stroke-width="5.0" stroke-linecap="round" stroke-linejoin="round"/>
<path d="M289.68,1228.50 L297.48,1212.90 L305.28,1228.50Z" fill="#FFC000"/>
<path d="M326.84,1228.50 L334.64,1212.90 L342.44,1228.50Z" fill="#FFC000"/>
<path d="M364.00,1152.54 L371.80,1136.94 L379.60,1152.54Z" fill="#FFC000"/>
<path d="M401.16,1096.11 L408.96,1080.51 L416.76,1096.11Z" fill="#FFC000"/>
<path d="M438.31,1038.59 L446.11,1022.99 L453.91,1038.59Z" fill="#FFC000"/>
<path d="M475.47,997.35 L483.27,981.75 L491.07,997.35Z" fill="#FFC000"/>
<path d="M512.63,964.25 L520.43,948.65 L528.23,964.25Z" fill="#FFC000"/>
<path d="M549.79,923.56 L557.59,907.96 L565.39,923.56Z" fill="#FFC000"/>
<path d="M586.95,877.44 L594.75,861.84 L602.55,877.44Z" fill="#FFC000"/>
<path d="M624.11,834.57 L631.91,818.97 L639.71,834.57Z" fill="#FFC000"/>
<path d="M661.27,793.88 L669.07,778.28 L676.87,793.88Z" fill="#FFC000"/>
<path d="M698.43,707.60 L706.23,692.00 L714.03,707.60Z" fill="#FFC000"/>
<path d="M735.59,707.60 L743.39,692.00 L751.19,707.60Z" fill="#FFC000"/>
<path d="M772.74,707.60 L780.54,692.00 L788.34,707.60Z" fill="#FFC000"/>
<path d="M809.90,707.60 L817.70,692.00 L825.50,707.60Z" fill="#FFC000"/>
<path d="M847.06,696.75 L854.86,681.15 L862.66,696.75Z" fill="#FFC000"/>
<path d="M884.22,697.84 L892.02,682.24 L899.82,697.84Z" fill="#FFC000"/>
<path d="M297.48,1220.70 C303.67,1220.70 322.25,1220.70 334.64,1220.70 C347.02,1220.70 359.41,1220.70 371.80,1220.70 C384.18,1220.70 396.57,1220.70 408.96,1220.70 C421.34,1218.98 433.73,1215.82 446.11,1210.39 C458.50,1204.96 470.89,1196.74 483.27,1188.14 C495.66,1179.55 508.05,1170.15 520.43,1158.84 C532.82,1147.54 545.20,1130.27 557.59,1120.32 C569.98,1110.37 582.36,1107.12 594.75,1099.16 C607.14,1091.20 619.52,1080.08 631.91,1072.57 C644.30,1065.06 656.68,1063.62 669.07,1054.12 C681.45,1044.63 693.84,1024.28 706.23,1015.60 C718.61,1006.92 731.00,1006.73 743.39,1002.03 C755.77,997.33 768.16,991.90 780.54,987.38 C792.93,982.86 805.32,980.33 817.70,974.90 C830.09,969.48 842.48,960.61 854.86,954.83 C865.02,950.08 879.34,944.91 887.58,941.85" fill="none" stroke="#5B9BD5" stroke-width="5.0" stroke-linecap="round" stroke-linejoin="round"/>
<path d="M289.68,1212.90 L305.28,1228.50 M289.68,1228.50 L305.28,1212.90 M297.48,1212.90 L297.48,1228.50" stroke="#5B9BD5" stroke-width="1.25" fill="none"/>
<path d="M326.84,1212.90 L342.44,1228.50 M326.84,1228.50 L342.44,1212.90 M334.64,1212.90 L334.64,1228.50" stroke="#5B9BD5" stroke-width="1.25" fill="none"/>
<path d="M364.00,1212.90 L379.60,1228.50 M364.00,1228.50 L379.60,1212.90 M371.80,1212.90 L371.80,1228.50" stroke="#5B9BD5" stroke-width="1.25" fill="none"/>
<path d="M401.16,1212.90 L416.76,1228.50 M401.16,1228.50 L416.76,1212.90 M408.96,1212.90 L408.96,1228.50" stroke="#5B9BD5" stroke-width="1.25" fill="none"/>
<path d="M438.31,1202.59 L453.91,1218.19 M438.31,1218.19 L453.91,1202.59 M446.11,1202.59 L446.11,1218.19" stroke="#5B9BD5" stroke-width="1.25" fill="none"/>
<path d="M475.47,1180.34 L491.07,1195.94 M475.47,1195.94 L491.07,1180.34 M483.27,1180.34 L483.27,1195.94" stroke="#5B9BD5" stroke-width="1.25" fill="none"/>
<path d="M512.63,1151.04 L528.23,1166.64 M512.63,1166.64 L528.23,1151.04 M520.43,1151.04 L520.43,1166.64" stroke="#5B9BD5" stroke-width="1.25" fill="none"/>
<path d="M549.79,1112.52 L565.39,1128.12 M549.79,1128.12 L565.39,1112.52 M557.59,1112.52 L557.59,1128.12" stroke="#5B9BD5" stroke-width="1.25" fill="none"/>
<path d="M586.95,1091.36 L602.55,1106.96 M586.95,1106.96 L602.55,1091.36 M594.75,1091.36 L594.75,1106.96" stroke="#5B9BD5" stroke-width="1.25" fill="none"/>
<path d="M624.11,1064.77 L639.71,1080.37 M624.11,1080.37 L639.71,1064.77 M631.91,1064.77 L631.91,1080.37" stroke="#5B9BD5" stroke-width="1.25" fill="none"/>
<path d="M661.27,1046.32 L676.87,1061.92 M661.27,1061.92 L676.87,1046.32 M669.07,1046.32 L669.07,1061.92" stroke="#5B9BD5" stroke-width="1.25" fill="none"/>
<path d="M698.43,1007.80 L714.03,1023.40 M698.43,1023.40 L714.03,1007.80 M706.23,1007.80 L706.23,1023.40" stroke="#5B9BD5" stroke-width="1.25" fill="none"/>
<path d="M735.59,994.23 L751.19,1009.83 M735.59,1009.83 L751.19,994.23 M743.39,994.23 L743.39,1009.83" stroke="#5B9BD5" stroke-width="1.25" fill="none"/>
<path d="M772.74,979.58 L788.34,995.18 M772.74,995.18 L788.34,979.58 M780.54,979.58 L780.54,995.18" stroke="#5B9BD5" stroke-width="1.25" fill="none"/>
<path d="M809.90,967.10 L825.50,982.70 M809.90,982.70 L825.50,967.10 M817.70,967.10 L817.70,982.70" stroke="#5B9BD5" stroke-width="1.25" fill="none"/>
<path d="M847.06,947.03 L862.66,962.63 M847.06,962.63 L862.66,947.03 M854.86,947.03 L854.86,962.63" stroke="#5B9BD5" stroke-width="1.25" fill="none"/>
<path d="M892.62,932.38 L892.62,947.98 M892.62,940.18 L900.42,932.38 M892.62,940.18 L900.42,947.98" stroke="#5B9BD5" stroke-width="1.2" fill="none"/>
<line x1="719.6" x2="746.8" y1="740.2" y2="740.2" stroke="#4472C4" stroke-width="5.0" stroke-linecap="round"/>
<rect x="725.30" y="732.40" width="15.6" height="15.6" fill="#4472C4"/>
<line x1="719.6" x2="746.8" y1="785.7" y2="785.7" stroke="#ED7D31" stroke-width="5.0" stroke-linecap="round"/>
<circle cx="733.10" cy="785.70" r="7.80" fill="#ED7D31"/>
<line x1="719.6" x2="746.8" y1="831.2" y2="831.2" stroke="#A5A5A5" stroke-width="5.0" stroke-linecap="round"/>
<path d="M725.30,831.20 L733.10,823.40 L740.90,831.20 L733.10,839.00Z" fill="#A5A5A5"/>
<line x1="719.6" x2="746.8" y1="876.7" y2="876.7" stroke="#FFC000" stroke-width="5.0" stroke-linecap="round"/>
<path d="M725.30,884.50 L733.10,868.90 L740.90,884.50Z" fill="#FFC000"/>
<line x1="719.6" x2="746.8" y1="922.2" y2="922.2" stroke="#5B9BD5" stroke-width="5.0" stroke-linecap="round"/>
<path d="M725.30,914.40 L740.90,930.00 M725.30,930.00 L740.90,914.40 M733.10,914.40 L733.10,930.00" stroke="#5B9BD5" stroke-width="1.25" fill="none"/>
<line x1="1231.9" x2="1830.8" y1="1131.67" y2="1131.67" stroke="#D9D9D9" stroke-width="1.2"/>
<line x1="1231.9" x2="1830.8" y1="1038.53" y2="1038.53" stroke="#D9D9D9" stroke-width="1.2"/>
<line x1="1231.9" x2="1830.8" y1="945.40" y2="945.40" stroke="#D9D9D9" stroke-width="1.2"/>
<line x1="1231.9" x2="1830.8" y1="852.27" y2="852.27" stroke="#D9D9D9" stroke-width="1.2"/>
<line x1="1231.9" x2="1830.8" y1="759.13" y2="759.13" stroke="#D9D9D9" stroke-width="1.2"/>
<line y1="666.0" y2="1224.8" x1="1351.68" x2="1351.68" stroke="#D9D9D9" stroke-width="1.2"/>
<line y1="666.0" y2="1224.8" x1="1471.46" x2="1471.46" stroke="#D9D9D9" stroke-width="1.2"/>
<line y1="666.0" y2="1224.8" x1="1591.24" x2="1591.24" stroke="#D9D9D9" stroke-width="1.2"/>
<line y1="666.0" y2="1224.8" x1="1711.02" x2="1711.02" stroke="#D9D9D9" stroke-width="1.2"/>
<path d="M1231.9,666.0 L1830.8,666.0 L1830.8,1224.8 L1231.9,1224.8" fill="none" stroke="#1c1c1c" stroke-width="1.1"/>
<line x1="1231.9" x2="1231.9" y1="665.5" y2="1225.3" stroke="#6e6e6e" stroke-width="1.5"/>
<path d="M1255.4,944.5 L1300.0,940.6 L1350.0,936.8 L1400.0,933.3 L1450.0,930.2 L1485.0,928.2 L1494.7,927.3 L1506.8,922.6 L1530.0,921.0 L1600.0,918.6 L1680.0,916.2 L1740.0,914.2 L1758.9,913.5 L1765.0,915.0 L1771.0,917.3 L1777.0,916.6 L1783.1,915.9" fill="none" stroke="#4472C4" stroke-width="6.8" stroke-linecap="round" stroke-linejoin="round"/>
<line x1="1252.7" y1="928" x2="1303.2" y2="753.5" stroke="#222" stroke-width="0.9"/>
<line x1="1252.7" y1="928" x2="1441" y2="857.5" stroke="#222" stroke-width="0.9"/>
<line x1="1774.3" y1="931.3" x2="1571" y2="995.2" stroke="#222" stroke-width="0.9"/>
<line x1="1774.3" y1="931.3" x2="1689.5" y2="1103" stroke="#222" stroke-width="0.9"/>
<line x1="1249.5" y1="929.3" x2="1253" y2="928" stroke="#222" stroke-width="0.9"/>
<line x1="1774" y1="931.4" x2="1778" y2="930.2" stroke="#222" stroke-width="0.9"/>
<g clip-path="url(#el1)">
<rect x="1301.8000000000002" y="686.3" width="207.2" height="178.0" fill="url(#elg1)"/>
<g filter="url(#d_b1)">
<rect x="1296.8000000000002" y="756.0" width="91.9" height="41.2" fill="url(#hl1)"/>
<rect x="1416.1" y="756.0" width="97.9" height="41.2" fill="url(#hr1)"/>
<rect x="1388.7" y="684.3" width="27.4" height="182.0" fill="#dcdcdc"/>
<rect x="1388.7" y="756.0" width="27.4" height="41.2" fill="url(#hc1)"/>
<rect x="1388.7" y="762.3" width="27.4" height="29.2" fill="url(#hx1)"/>
<path d="M1388.7,684.3 L1388.7,756.0 L1389.3,761.8 Q1384.7,776.9 1389.3,792.0 L1388.7,797.2 L1388.7,866.3" fill="none" stroke="#2c2c2c" stroke-width="2"/>
<path d="M1389.3,761.8 Q1378.2,776.9 1389.3,792.0 Q1386.2,776.9 1389.3,761.8Z" fill="#1a1a1a"/>
<path d="M1416.1,684.3 L1416.1,756.0 L1415.5,761.8 Q1420.1,776.9 1415.5,792.0 L1416.1,797.2 L1416.1,866.3" fill="none" stroke="#2c2c2c" stroke-width="2"/>
<path d="M1415.5,761.8 Q1426.6,776.9 1415.5,792.0 Q1418.6,776.9 1415.5,761.8Z" fill="#1a1a1a"/>
</g>
</g>
<ellipse cx="1405.4" cy="775.3" rx="102.6" ry="88.0" fill="none" stroke="#3a3a3a" stroke-width="2.8"/>
<g clip-path="url(#el2)">
<rect x="1486.4" y="994.6" width="207.2" height="173.8" fill="url(#elg2)"/>
<g filter="url(#d_b1)">
<rect x="1481.4" y="1062.4" width="92.3" height="41.1" fill="url(#hl2)"/>
<rect x="1601.2" y="1062.4" width="97.4" height="41.1" fill="url(#hr2)"/>
<rect x="1573.7" y="992.6" width="27.5" height="177.8" fill="#dcdcdc"/>
<rect x="1573.7" y="1062.4" width="27.5" height="41.1" fill="url(#hc2)"/>
<rect x="1573.7" y="1068.6" width="27.5" height="27.9" fill="url(#hx2)"/>
<path d="M1573.7,992.6 L1573.7,1062.4 L1574.3,1068.1 Q1569.7,1082.5 1574.3,1097.0 L1573.7,1103.5 L1573.7,1170.4" fill="none" stroke="#2c2c2c" stroke-width="2"/>
<path d="M1574.3,1068.1 Q1563.2,1082.5 1574.3,1097.0 Q1571.2,1082.5 1574.3,1068.1Z" fill="#1a1a1a"/>
<path d="M1601.2,992.6 L1601.2,1062.4 L1600.6,1068.1 Q1605.2,1082.5 1600.6,1097.0 L1601.2,1103.5 L1601.2,1170.4" fill="none" stroke="#2c2c2c" stroke-width="2"/>
<path d="M1600.6,1068.1 Q1611.7,1082.5 1600.6,1097.0 Q1603.7,1082.5 1600.6,1068.1Z" fill="#1a1a1a"/>
</g>
</g>
<ellipse cx="1590.0" cy="1081.5" rx="102.6" ry="85.9" fill="none" stroke="#3a3a3a" stroke-width="2.8"/>
<rect x="1554.2" y="766.6" width="215.3" height="3.6" fill="#000"/>
<g>
<text transform="translate(540.15,439.30) scale(0.9682,1)" font-size="49.28" font-weight="bold" fill="#000" xml:space="preserve">4 mm</text>
<text transform="translate(2.56,60.60) scale(0.9225,1)" font-size="49.81" fill="#000" xml:space="preserve">a)</text>
<text transform="translate(1462.86,32.00) scale(0.9823,1)" font-size="23.91" font-weight="bold" fill="#000" xml:space="preserve">OFF</text>
<text transform="translate(1461.43,283.90) scale(1.0324,1)" font-size="30.87" font-weight="bold" fill="#000" xml:space="preserve">ON</text>
<text transform="translate(1722.87,36.60) scale(1.0722,1)" font-size="24.93" font-weight="bold" fill="#000" xml:space="preserve">400 µm</text>
<text transform="translate(1711.76,287.30) scale(1.0419,1)" font-size="30.87" font-weight="bold" fill="#000" xml:space="preserve">400 µm</text>
<text transform="translate(789.27,59.40) scale(1.0273,1)" font-size="49.06" fill="#000" xml:space="preserve">b)</text>
<text transform="translate(750.25,750.50) scale(0.9968,1)" font-size="31.43" fill="#000" xml:space="preserve">300X350</text>
<text transform="translate(750.23,796.00) scale(1.0129,1)" font-size="31.43" fill="#000" xml:space="preserve">300x300</text>
<text transform="translate(750.23,841.50) scale(1.0129,1)" font-size="31.43" fill="#000" xml:space="preserve">300x250</text>
<text transform="translate(750.23,887.00) scale(1.0129,1)" font-size="31.43" fill="#000" xml:space="preserve">300x200</text>
<text transform="translate(750.23,932.50) scale(1.0129,1)" font-size="31.43" fill="#000" xml:space="preserve">300x150</text>
<text transform="translate(218.38,1232.60) scale(1.1182,1)" font-size="36.14" fill="#000" xml:space="preserve">0</text>
<text transform="translate(196.82,1178.34) scale(1.1011,1)" font-size="36.14" fill="#000" xml:space="preserve">10</text>
<text transform="translate(198.07,1124.08) scale(1.0687,1)" font-size="36.14" fill="#000" xml:space="preserve">20</text>
<text transform="translate(198.47,1069.82) scale(1.0584,1)" font-size="36.14" fill="#000" xml:space="preserve">30</text>
<text transform="translate(199.25,1015.56) scale(1.0382,1)" font-size="36.14" fill="#000" xml:space="preserve">40</text>
<text transform="translate(198.47,961.30) scale(1.0584,1)" font-size="36.14" fill="#000" xml:space="preserve">50</text>
<text transform="translate(198.07,907.04) scale(1.0687,1)" font-size="36.14" fill="#000" xml:space="preserve">60</text>
<text transform="translate(198.07,852.78) scale(1.0687,1)" font-size="36.14" fill="#000" xml:space="preserve">70</text>
<text transform="translate(198.47,798.52) scale(1.0584,1)" font-size="36.14" fill="#000" xml:space="preserve">80</text>
<text transform="translate(198.07,744.26) scale(1.0687,1)" font-size="36.14" fill="#000" xml:space="preserve">90</text>
<text transform="translate(177.35,690.00) scale(1.0532,1)" font-size="36.14" fill="#000" xml:space="preserve">100</text>
<text transform="translate(280.92,1285.70) scale(1.0234,1)" font-size="36.14" fill="#000" xml:space="preserve">35</text>
<text transform="translate(453.90,1285.70) scale(0.9982,1)" font-size="36.14" fill="#000" xml:space="preserve">70</text>
<text transform="translate(625.58,1285.70) scale(1.0085,1)" font-size="36.14" fill="#000" xml:space="preserve">105</text>
<text transform="translate(789.19,1285.70) scale(1.0407,1)" font-size="36.14" fill="#000" xml:space="preserve">140</text>
<text transform="translate(366.20,1350.60) scale(0.9762,1)" font-size="43.48" fill="#000" xml:space="preserve">Pressure Differential [kPa]</text>
<text transform="translate(146.70,1079.41) rotate(-90) scale(0.9398,1)" font-size="43.48" fill="#000" xml:space="preserve">Valve Closure (%)</text>
<text transform="translate(19.17,651.00) scale(0.9327,1)" font-size="49.06" fill="#000" xml:space="preserve">c)</text>
<text transform="translate(1172.39,1236.70) scale(1.1125,1)" font-size="36.14" fill="#000" xml:space="preserve">0</text>
<text transform="translate(1150.82,1143.57) scale(1.0983,1)" font-size="36.14" fill="#000" xml:space="preserve">10</text>
<text transform="translate(1152.07,1050.43) scale(1.0660,1)" font-size="36.14" fill="#000" xml:space="preserve">20</text>
<text transform="translate(1152.47,957.30) scale(1.0557,1)" font-size="36.14" fill="#000" xml:space="preserve">30</text>
<text transform="translate(1153.25,864.17) scale(1.0356,1)" font-size="36.14" fill="#000" xml:space="preserve">40</text>
<text transform="translate(1152.47,771.03) scale(1.0557,1)" font-size="36.14" fill="#000" xml:space="preserve">50</text>
<text transform="translate(1152.07,677.90) scale(1.0660,1)" font-size="36.14" fill="#000" xml:space="preserve">60</text>
<text transform="translate(1220.58,1290.00) scale(1.1182,1)" font-size="36.14" fill="#000" xml:space="preserve">0</text>
<text transform="translate(1342.04,1290.00) scale(1.0302,1)" font-size="36.14" fill="#000" xml:space="preserve">5</text>
<text transform="translate(1449.70,1290.00) scale(1.0760,1)" font-size="36.14" fill="#000" xml:space="preserve">10</text>
<text transform="translate(1570.35,1290.00) scale(1.0341,1)" font-size="36.14" fill="#000" xml:space="preserve">15</text>
<text transform="translate(1690.21,1290.00) scale(1.0579,1)" font-size="36.14" fill="#000" xml:space="preserve">20</text>
<text transform="translate(1810.76,1290.00) scale(1.0199,1)" font-size="36.14" fill="#000" xml:space="preserve">25</text>
<text transform="translate(1409.83,1349.60) scale(1.0335,1)" font-size="42.32" fill="#000" xml:space="preserve">Time [hours]</text>
<text transform="translate(1135.80,1129.53) rotate(-90) scale(1.0065,1)" font-size="42.61" fill="#000" xml:space="preserve">Mixing contrast (%)</text>
<text transform="translate(1014.55,656.80) scale(0.9934,1)" font-size="49.06" fill="#000" xml:space="preserve">d)</text>
<text transform="translate(1576.88,745.70) scale(1.1421,1)" font-size="42.03" fill="#000" xml:space="preserve">I</text>
<text transform="translate(1645.58,745.70) scale(1.1421,1)" font-size="42.03" fill="#000" xml:space="preserve">I</text>
<text transform="translate(1589.48,756.70) scale(1.0013,1)" font-size="30.19" fill="#000" xml:space="preserve">red</text>
<text transform="translate(1657.65,756.70) scale(1.0181,1)" font-size="30.19" fill="#000" xml:space="preserve">buffer</text>
<text transform="translate(1633.26,747.20) scale(0.9137,1)" font-size="42.03" fill="#000" xml:space="preserve">-</text>
<text transform="translate(1576.88,806.50) scale(1.1421,1)" font-size="42.03" fill="#000" xml:space="preserve">I</text>
<text transform="translate(1654.38,806.50) scale(1.1421,1)" font-size="42.03" fill="#000" xml:space="preserve">I</text>
<text transform="translate(1589.48,817.90) scale(1.0013,1)" font-size="30.19" fill="#000" xml:space="preserve">red</text>
<text transform="translate(1666.46,817.90) scale(1.0127,1)" font-size="30.19" fill="#000" xml:space="preserve">buffer</text>
<text transform="translate(1632.44,806.50) scale(0.9815,1)" font-size="42.03" fill="#000" xml:space="preserve">+</text>
</g>
</svg>
</body></html>
